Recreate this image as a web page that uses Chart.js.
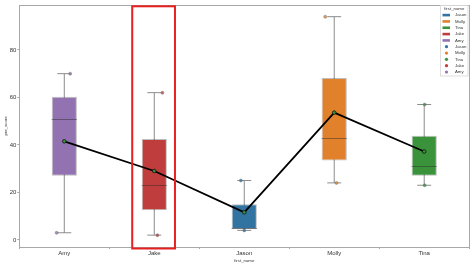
<!DOCTYPE html>
<html><head><meta charset="utf-8">
<script src="https://cdn.jsdelivr.net/npm/chart.js@4/dist/chart.umd.min.js"></script>
<style>html,body{margin:0;padding:0;background:#fff}#wrap{width:474px;height:266px}</style>
</head><body><div id="wrap"><canvas id="c" width="474" height="266"></canvas></div>
<script>
const categories = ['Amy', 'Jake', 'Jason', 'Molly', 'Tina'];
const mins    = [3, 2, 4, 24, 23];
const q1s     = [27, 12.5, 4.5, 33.4, 27];
const medians = [50.8, 23, 5, 43, 31];
const q3s     = [60.3, 42.5, 15, 68.2, 43.8];
const maxs    = [70, 62, 25, 94, 57];
const means   = [41.5, 29, 11.6, 53.6, 37.2];
const jitterMax = [0.065, 0.09, -0.037, -0.1, 0.005];
const jitterMin = [-0.085, 0.035, 0.0, 0.025, 0.005];
const yTicks = [0, 20, 40, 60, 80];
const legendOrder = ['Jason', 'Molly', 'Tina', 'Jake', 'Amy'];
const palette = {Amy:'#9372b2', Jake:'#c03d3e', Jason:'#3274a1', Molly:'#e1812c', Tina:'#3a923a'};
const highlighted = 'Jake';

const colors = categories.map(c => palette[c]);
const FONT = "'Liberation Sans', Arial, sans-serif";

const boxPlugin = {
  id: 'boxExtras',
  beforeDatasetsDraw(chart) {
    const ctx = chart.ctx, x = chart.scales.x, y = chart.scales.y;
    const cw = x.getPixelForValue(1) - x.getPixelForValue(0);
    const cap = cw * 0.155;
    ctx.save();
    categories.forEach((c, i) => {
      const px = x.getPixelForValue(i);
      ctx.strokeStyle = '#8c8c8c'; ctx.lineWidth = 1;
      ctx.beginPath();
      ctx.moveTo(px, y.getPixelForValue(mins[i])); ctx.lineTo(px, y.getPixelForValue(maxs[i]));
      ctx.moveTo(px - cap/2, y.getPixelForValue(mins[i])); ctx.lineTo(px + cap/2, y.getPixelForValue(mins[i]));
      ctx.moveTo(px - cap/2, y.getPixelForValue(maxs[i])); ctx.lineTo(px + cap/2, y.getPixelForValue(maxs[i]));
      ctx.stroke();
      [[maxs[i], jitterMax[i]], [mins[i], jitterMin[i]]].forEach(([v, j]) => {
        ctx.beginPath();
        ctx.arc(px + j * cw, y.getPixelForValue(v), 1.5, 0, Math.PI * 2);
        ctx.fillStyle = colors[i]; ctx.globalAlpha = 0.8; ctx.fill();
        ctx.globalAlpha = 1; ctx.strokeStyle = '#777'; ctx.lineWidth = 0.5; ctx.stroke();
      });
    });
    ctx.restore();
  },
  afterDatasetDraw(chart, args) {
    if (args.index !== 1) return;
    const ctx = chart.ctx, x = chart.scales.x, y = chart.scales.y;
    const meta = chart.getDatasetMeta(1);
    ctx.save();
    ctx.strokeStyle = 'rgba(40,40,40,0.45)'; ctx.lineWidth = 1;
    meta.data.forEach((bar, i) => {
      const py = Math.round(y.getPixelForValue(medians[i])) + 0.5;
      ctx.beginPath(); ctx.moveTo(bar.x - bar.width/2, py); ctx.lineTo(bar.x + bar.width/2, py); ctx.stroke();
    });
    ctx.restore();
  },
  afterDraw(chart) {
    const ctx = chart.ctx, a = chart.chartArea, x = chart.scales.x;
    ctx.save();
    // frame
    ctx.strokeStyle = '#a8a8a8'; ctx.lineWidth = 1;
    ctx.strokeRect(Math.round(a.left) + 0.5, Math.round(a.top) + 0.5, Math.round(a.right - a.left), Math.round(a.bottom - a.top));
    // highlight rectangle
    const hx = x.getPixelForValue(categories.indexOf(highlighted));
    const cw = x.getPixelForValue(1) - x.getPixelForValue(0);
    ctx.strokeStyle = '#e5201f'; ctx.lineWidth = 2;
    ctx.strokeRect(hx - cw * 0.245, a.top + 1.5, cw * 0.475, a.bottom - a.top);
    // legend
    const lx = 440.5, ly = 5.5, lw = 27.5, lh = 70.5;
    ctx.fillStyle = 'rgba(255,255,255,0.85)'; ctx.fillRect(lx, ly, lw, lh);
    ctx.strokeStyle = '#d6d6d6'; ctx.lineWidth = 0.8; ctx.strokeRect(lx, ly, lw, lh);
    ctx.font = '4.3px ' + FONT; ctx.fillStyle = '#333'; ctx.textBaseline = 'middle';
    ctx.textAlign = 'center'; ctx.fillText('first_name', lx + lw/2, ly + 3.6);
    ctx.textAlign = 'left';
    legendOrder.forEach((name, k) => {
      const yy = ly + 9.6 + k * 6.33;
      ctx.fillStyle = palette[name]; ctx.fillRect(lx + 2, yy - 1.3, 7.5, 2.6);
      ctx.fillStyle = '#333'; ctx.fillText(name, lx + 14.5, yy);
    });
    legendOrder.forEach((name, k) => {
      const yy = ly + 41.2 + k * 6.33;
      ctx.beginPath(); ctx.arc(lx + 6, yy, 1.6, 0, Math.PI*2); ctx.fillStyle = palette[name]; ctx.fill();
      ctx.fillStyle = '#333'; ctx.fillText(name, lx + 14.5, yy);
    });
    ctx.restore();
  }
};

new Chart(document.getElementById('c'), {
  type: 'bar',
  data: {
    labels: categories,
    datasets: [
      {
        type: 'line', data: means, borderColor: '#000', borderWidth: 1.8,
        pointRadius: 1.8, pointBackgroundColor: '#3a923a', pointBorderColor: '#111', pointBorderWidth: 0.8,
        tension: 0, fill: false
      },
      {
        type: 'bar', data: categories.map((c, i) => [q1s[i], q3s[i]]),
        backgroundColor: colors, borderColor: 'rgba(40,40,40,0.3)', borderWidth: 1, borderSkipped: false,
        barPercentage: 0.28, categoryPercentage: 1
      }
    ]
  },
  plugins: [boxPlugin],
  options: {
    responsive: false, animation: false, devicePixelRatio: 1,
    layout: { padding: { top: 3.3, right: 3.5, left: 0, bottom: 0 } },
    plugins: { legend: { display: false }, tooltip: { enabled: false } },
    scales: {
      x: {
        offset: true,
        grid: { display: true, drawOnChartArea: false, drawTicks: true, tickLength: 2, color: '#a8a8a8' },
        border: { display: false },
        ticks: { font: { size: 6, family: FONT }, color: '#333', padding: 1 },
        title: { display: true, text: 'first_name', font: { size: 4.3, family: FONT }, color: '#333', padding: { top: 0, bottom: 3 } },
        afterFit(s) { s.height = 19; }
      },
      y: {
        min: -3, max: 99,
        afterBuildTicks(s) { s.ticks = yTicks.map(v => ({ value: v })); },
        grid: { display: true, drawOnChartArea: false, drawTicks: true, tickLength: 2, color: '#a8a8a8' },
        border: { display: false },
        ticks: { font: { size: 6, family: FONT }, color: '#333', padding: 1 },
        title: { display: true, text: 'pre_score', font: { size: 4.3, family: FONT }, color: '#333', padding: { top: 3, bottom: 0 } },
        afterFit(s) { s.width = 19.3; }
      }
    }
  }
});
</script></body></html>
